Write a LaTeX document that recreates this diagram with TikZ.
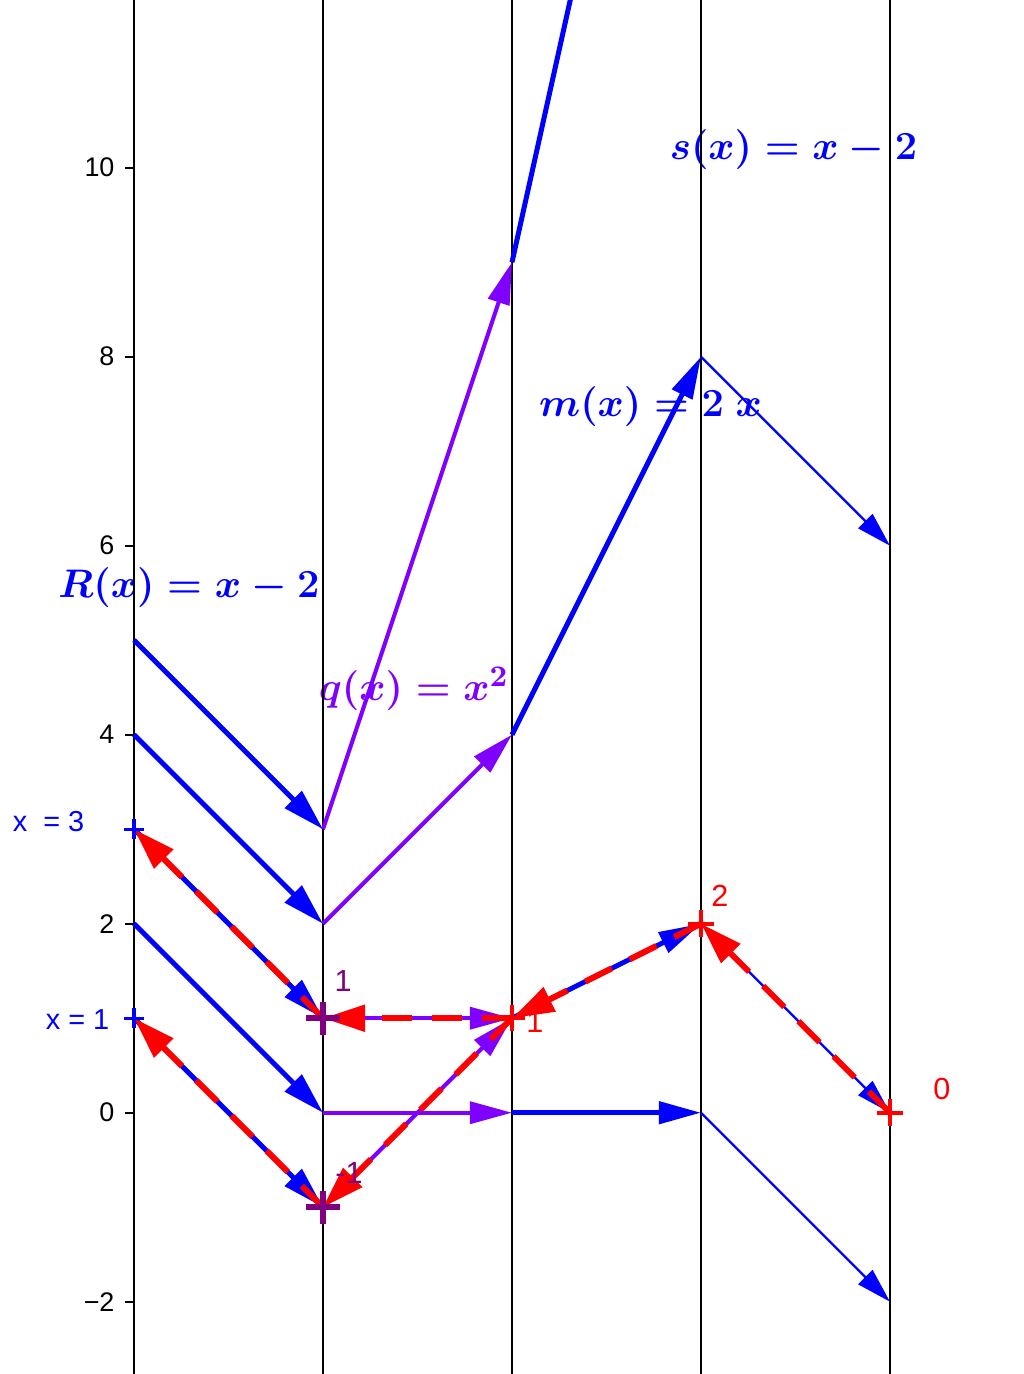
\documentclass[tikz,border=0pt]{standalone}
\usepackage{fontspec}
\setmainfont{Liberation Sans}
\usetikzlibrary{arrows.meta}
\definecolor{vio}{RGB}{127,0,255}
\definecolor{dpur}{RGB}{128,0,128}
\definecolor{bl}{RGB}{0,0,255}
\definecolor{rd}{RGB}{255,0,0}
\begin{document}
\begin{tikzpicture}[x=1cm,y=1cm,
  vline/.style={black, line width=0.7pt},
  tickmark/.style={black, line width=0.7pt},
  ticklab/.style={anchor=east, font=\fontsize{8.1}{9.5}\selectfont, inner sep=0pt},
  xlab/.style={anchor=east, bl, font=\fontsize{8.7}{10}\selectfont, inner sep=0pt},
  rmap/.style={bl, line width=1.5pt, -{Triangle[length=12.7pt,width=7pt]}},
  qmap/.style={vio, line width=1.2pt, -{Triangle[length=12.7pt,width=6.6pt]}},
  mmap/.style={bl, line width=1.5pt, -{Triangle[length=12.7pt,width=6.6pt]}},
  smap/.style={bl, line width=0.7pt, -{Triangle[length=10.5pt,width=6pt]}},
  inv/.style={rd, line width=1.8pt, dash pattern=on 9pt off 6pt, -{Triangle[length=12.7pt,width=7.8pt]}},
  fnlab/.style={font=\fontsize{12.5}{15}\selectfont\boldmath, inner sep=0pt, anchor=base},
  ptlab/.style={font=\fontsize{9.2}{11}\selectfont, inner sep=0pt},
  redcross/.style={rd, line width=1.3pt},
  purcross/.style={dpur, line width=1.7pt},
  bluecross/.style={bl, line width=1pt},
]
\useasboundingbox (-1.418,-2.765) rectangle (9.418,11.775);
\clip (-1.418,-2.765) rectangle (9.418,11.775);

% function labels (under the lines)
\node[fnlab, bl]  (Rlab) at (0.582,5.45)  {$R(x) = x - 2$};
\node[fnlab, vio] (qlab) at (2.963,4.36)  {$q(x) = x^2$};
\node[fnlab, bl]  (mlab) at (5.466,7.365) {$m(x) = 2\ x$};
\node[fnlab, bl]  (slab) at (6.979,10.085) {$s(x) = x - 2$};

% vertical lines
\foreach \k in {0,2,4,6,8} \draw[vline] (\k,-2.8) -- (\k,11.8);

% axis ticks
\foreach \v/\t in {-2/−2,0/0,2/2,4/4,6/6,8/8,10/10} {
  \draw[tickmark] (-0.095,\v) -- (0,\v);
  \node[ticklab] (tk\v) at (-0.2,\v) {\t};
}

% points
\coordinate (A5) at (0,5);
\coordinate (A4) at (0,4);
\coordinate (A3) at (0,3);
\coordinate (A2) at (0,2);
\coordinate (A1) at (0,1);
\coordinate (B3) at (2,3);
\coordinate (B2) at (2,2);
\coordinate (B1) at (2,1);
\coordinate (B0) at (2,0);
\coordinate (Bm) at (2,-1);
\coordinate (C9) at (4,9);
\coordinate (C4) at (4,4);
\coordinate (C1) at (4,1);
\coordinate (C0) at (4,0);
\coordinate (D18) at (6,18);
\coordinate (D8) at (6,8);
\coordinate (D2) at (6,2);
\coordinate (D0) at (6,0);
\coordinate (E6) at (8,6);
\coordinate (E0) at (8,0);
\coordinate (Em) at (8,-2);

% R arrows
\draw[rmap] (A5) -- (B3);
\draw[rmap] (A4) -- (B2);
\draw[rmap] (A3) -- (B1);
\draw[rmap] (A2) -- (B0);
\draw[rmap] (A1) -- (Bm);
% q arrows
\draw[qmap] (B3) -- (C9);
\draw[qmap] (B2) -- (C4);
\draw[qmap] (B1) -- (C1);
\draw[qmap] (B0) -- (C0);
\draw[qmap] (Bm) -- (C1);
% m arrows
\draw[mmap] (C9) -- (D18);
\draw[mmap] (C4) -- (D8);
\draw[mmap] (C1) -- (D2);
\draw[mmap] (C0) -- (D0);
% s arrows
\draw[smap] (D8) -- (E6);
\draw[smap] (D2) -- (E0);
\draw[smap] (D0) -- (Em);

% inverse (red dashed)
\draw[inv] (E0) -- (D2);
\draw[inv] (D2) -- (C1);
\draw[inv] (C1) -- (B1);
\draw[inv] (C1) -- (Bm);
\draw[inv] (B1) -- (A3);
\draw[inv] (Bm) -- (A1);

% markers
\foreach \p in {E0,D2,C1}
  \draw[redcross] (\p) ++(-0.14,0) -- ++(0.28,0) (\p) ++(0,-0.14) -- ++(0,0.28);
\foreach \p in {B1,Bm}
  \draw[purcross] (\p) ++(-0.175,0) -- ++(0.35,0) (\p) ++(0,-0.175) -- ++(0,0.35);
\foreach \p in {A3,A1}
  \draw[bluecross] (\p) ++(-0.105,0) -- ++(0.21,0) (\p) ++(0,-0.105) -- ++(0,0.21);

% x labels
\node[xlab] (x3) at (-0.519,3.08) {x~ = 3};
\node[xlab] (x1) at (-0.254,0.984) {x = 1};

% point labels
\node[ptlab, rd]   (l2)  at (6.201,2.299) {2};
\node[ptlab, rd]   (l0)  at (8.55,0.254)  {0};
\node[ptlab, rd]   (l1r) at (4.243,0.964) {1};
\node[ptlab, dpur] (l1p) at (2.212,1.398) {1};
\node[ptlab, dpur] (lm1) at (2.275,-0.636) {-1};
\end{tikzpicture}
\end{document}
